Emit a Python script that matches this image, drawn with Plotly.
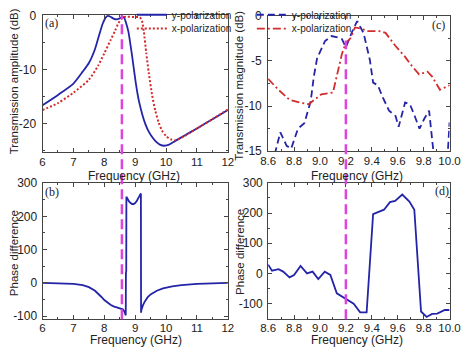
import plotly.graph_objects as go

# ---------------- data ----------------
# (a) transmission amplitude (dB), simulation
freq_a_y = [6.0, 6.5, 7.0, 7.3, 7.5, 7.7, 7.85, 7.95, 8.05, 8.12, 8.2, 8.3, 8.4, 8.5, 8.58,
            8.64, 8.7, 8.78, 8.9, 9.02, 9.12, 9.23, 9.33, 9.44, 9.55, 9.65, 9.8, 9.95,
            10.1, 10.3, 10.6, 11.0, 11.5, 12.0]
amp_y = [-16.6, -14.7, -12.6, -10.4, -8.8, -6.2, -3.3, -1.5, -0.35, -0.1, -0.25, -0.6, -0.75,
         -0.55, -0.3, -0.4, -1.3, -3.0, -7.5, -12.5, -15.8, -18.3, -20.1, -21.5, -22.5, -23.2,
         -23.9, -24.1, -23.9, -23.2, -22.2, -20.9, -19.2, -17.5]
freq_a_x = [6.0, 6.5, 7.0, 7.5, 7.8, 8.0, 8.2, 8.35, 8.46, 8.56, 8.65, 8.75, 9.0, 9.15, 9.22,
            9.28, 9.36, 9.44, 9.55, 9.65, 9.76, 9.86, 10.0, 10.15, 10.3, 10.6, 11.0, 11.5, 12.0]
amp_x = [-17.5, -16.2, -14.3, -11.9, -9.3, -7.0, -4.6, -2.8, -1.4, -0.6, -0.3, -0.25, -0.3,
         -0.35, -1.0, -3.0, -7.0, -10.6, -14.8, -17.6, -19.8, -21.2, -22.3, -22.9, -23.1,
         -22.3, -20.9, -19.2, -17.4]

# (b) phase difference, simulation
freq_b = [6.0, 6.5, 7.0, 7.3, 7.5, 7.7, 7.8, 7.9, 8.0, 8.1, 8.2, 8.3, 8.4, 8.5, 8.6, 8.65,
          8.695, 8.70, 8.71, 8.715, 8.75, 8.8, 8.85, 8.9, 8.95, 9.0, 9.05, 9.1, 9.15, 9.185,
          9.19, 9.2, 9.25, 9.3, 9.4, 9.5, 9.7, 9.9, 10.2, 10.5, 11.0, 11.5, 12.0]
phase_b = [0, -1, -3, -7, -13, -24, -32, -42, -52, -60, -66, -71, -74, -76, -80, -86,
           -98, 30, 35, 259, 252, 245, 240, 237, 237, 240, 246, 254, 262, 269,
           -90, -82, -68, -58, -44, -35, -24, -17, -11, -7, -3, -1.5, -0.5]

# (c) transmission magnitude (dB), measurement
freq_c_y = [8.63, 8.664, 8.694, 8.743, 8.778, 8.83, 8.879, 8.928, 8.953, 8.978, 9.039, 9.089,
            9.139, 9.17, 9.2, 9.25, 9.287, 9.336, 9.385, 9.41, 9.447, 9.48, 9.533, 9.583,
            9.607, 9.657, 9.694, 9.731, 9.768, 9.805, 9.842, 9.879, 9.95, 9.985, 10.0]
mag_y = [-16.5, -14.5, -12.9, -14.4, -14.7, -12.5, -11.9, -9.5, -6.7, -4.7, -2.8, -2.25,
         -2.4, -2.6, -3.5, -1.7, -0.6, -1.9, -4.9, -7.4, -7.7, -8.9, -10.5, -11.1,
         -12.3, -9.6, -9.8, -11.1, -12.5, -11.4, -10.5, -15.5, -16.5, -15.5, -11.8]
freq_c_x = [8.6, 8.68, 8.765, 8.84, 8.913, 8.94, 9.01, 9.1, 9.17, 9.2, 9.235, 9.27, 9.31,
            9.37, 9.457, 9.506, 9.58, 9.654, 9.7, 9.765, 9.83, 9.864, 9.926, 10.0]
mag_x = [-7.0, -8.2, -9.3, -9.6, -9.8, -9.5, -8.7, -8.5, -4.2, -3.0, -2.5, -1.3, -1.4,
         -1.7, -1.7, -1.9, -3.3, -4.5, -5.4, -6.5, -6.2, -6.7, -8.2, -7.7]

# (d) phase difference, measurement
freq_d = [8.6, 8.63, 8.68, 8.716, 8.765, 8.80, 8.85, 8.90, 8.943, 8.987, 9.037, 9.08, 9.13,
          9.20, 9.26, 9.31, 9.36, 9.41, 9.457, 9.494, 9.54, 9.58, 9.635, 9.69, 9.728, 9.78,
          9.823, 9.865, 9.905, 9.963, 10.0]
phase_d = [29, 9, 14, 6, -13, -5, 25, 0, 6, -19, 6, -5, -66, -84, -100, -129, -129, 196,
           204, 211, 236, 240, 261, 238, 211, -126, -144, -134, -133, -121, -121]

marker_a = 8.57
marker_c = 9.2

xticks_a = [6, 7, 8, 9, 10, 11, 12]
xtext_a = ["6", "7", "8", "9", "10", "11", "12"]
yticks_a = [0, -10, -20]
ytext_a = ["0", "-10", "-20"]
xticks_c = [8.6, 8.8, 9.0, 9.2, 9.4, 9.6, 9.8, 10.0]
xtext_c = ["8.6", "8.8", "9.0", "9.2", "9.4", "9.6", "9.8", "10.0"]
yticks_c = [0, -5, -10, -15]
ytext_c = ["0", "-5", "-10", "-15"]
yticks_bd = [300, 200, 100, 0, -100]
ytext_bd = ["300", "200", "100", "0", "-100"]

# ---------------- style ----------------
W, H = 474, 355
BLUE = "#2424a8"
RED = "#d22c2c"
MAG = "#dd44dd"
AX = "#444444"
TXT = "#222222"
SANS = "Liberation Sans, Arial, sans-serif"
TICKFONT = dict(family=SANS, size=12, color=TXT)
XTICKFONT = dict(family=SANS, size=11.5, color=TXT)
TITLEFONT = dict(family=SANS, size=12, color=TXT)
YTITLEFONT = dict(family=SANS, size=11.5, color=TXT)
LEGFONT = dict(family=SANS, size=10, color=TXT)
PANELFONT = dict(family="Liberation Serif, Times New Roman, serif", size=12, color=TXT)


def px_x(p):
    return p / W


def px_y(p):
    return 1 - p / H


LX = [px_x(36), px_x(229)]
RX = [px_x(271), px_x(460)]
A_Y = [px_y(150), px_y(6.2)]
C_Y = [px_y(149), px_y(7)]
B_Y = [px_y(325), px_y(182.3)]
D_Y = [px_y(325), px_y(182)]

fig = go.Figure()

fig.add_trace(go.Scatter(x=freq_a_y, y=amp_y, mode="lines", name="y-polarization",
                         line=dict(color=BLUE, width=1.8, shape="spline", smoothing=0.6),
                         xaxis="x", yaxis="y", legend="legend"))
fig.add_trace(go.Scatter(x=freq_a_x, y=amp_x, mode="lines", name="x-polarization",
                         line=dict(color=RED, width=2, dash="2px,2px", shape="spline", smoothing=0.6),
                         xaxis="x", yaxis="y", legend="legend2"))
fig.add_trace(go.Scatter(x=freq_c_y, y=mag_y, mode="lines", name="y-polarization",
                         line=dict(color=BLUE, width=1.8, dash="7px,4px"),
                         xaxis="x2", yaxis="y2", legend="legend3"))
fig.add_trace(go.Scatter(x=freq_c_x, y=mag_x, mode="lines", name="x-polarization",
                         line=dict(color=RED, width=1.8, dash="8px,3px,2px,3px"),
                         xaxis="x2", yaxis="y2", legend="legend4"))
fig.add_trace(go.Scatter(x=freq_b, y=phase_b, mode="lines", showlegend=False,
                         line=dict(color=BLUE, width=1.8), xaxis="x3", yaxis="y3"))
fig.add_trace(go.Scatter(x=freq_d, y=phase_d, mode="lines", showlegend=False,
                         line=dict(color=BLUE, width=1.8), xaxis="x4", yaxis="y4"))


def axis(domain, rng, tickvals, ticktext, anchor, minor_dtick, standoff, font=TICKFONT):
    return dict(domain=domain, range=rng, anchor=anchor, tickmode="array",
                tickvals=tickvals, ticktext=ticktext, ticks="inside", ticklen=4,
                tickwidth=1, tickcolor=AX, showline=True, linecolor=AX, linewidth=1,
                mirror="ticks", showgrid=False, zeroline=False, tickfont=font,
                minor=dict(ticks="inside", ticklen=2, tickcolor=AX, dtick=minor_dtick,
                           showgrid=False),
                ticklabelstandoff=standoff)


fig.update_layout(
    width=W, height=H, autosize=False,
    margin=dict(l=0, r=0, t=0, b=0),
    paper_bgcolor="white", plot_bgcolor="white",
    xaxis=axis(LX, [6, 12], xticks_a, xtext_a, "y", 0.5, -1, XTICKFONT),
    yaxis=axis(A_Y, [-25.3, 0.09], yticks_a, ytext_a, "x", 5, 3),
    xaxis2=axis(RX, [8.6, 10.0], xticks_c, xtext_c, "y2", 0.1, -1, XTICKFONT),
    yaxis2=axis(C_Y, [-15, 0], yticks_c, ytext_c, "x2", 2.5, 3),
    xaxis3=axis(LX, [6, 12], xticks_a, xtext_a, "y3", 0.5, -2, XTICKFONT),
    yaxis3=axis(B_Y, [-110, 300], yticks_bd, ytext_bd, "x3", 50, 2),
    xaxis4=axis(RX, [8.6, 10.0], xticks_c, xtext_c, "y4", 0.1, -2, XTICKFONT),
    yaxis4=axis(D_Y, [-152, 300], yticks_bd, ytext_bd, "x4", 50, 2),
)

legend_common = dict(bgcolor="rgba(0,0,0,0)", borderwidth=0, font=LEGFONT,
                     xanchor="left", yanchor="middle", itemwidth=30)
fig.update_layout(
    legend=dict(x=px_x(129), y=px_y(6), **legend_common),
    legend2=dict(x=px_x(129), y=px_y(20.5), **legend_common),
    legend3=dict(x=px_x(254), y=px_y(6), **legend_common),
    legend4=dict(x=px_x(254), y=px_y(20.5), **legend_common),
)

# magenta marker lines spanning top and bottom panels
fig.add_shape(type="line", xref="x", yref="paper", x0=marker_a, x1=marker_a,
              y0=B_Y[0], y1=A_Y[1], line=dict(color=MAG, width=2.5, dash="10px,5px"))
fig.add_shape(type="line", xref="x2", yref="paper", x0=marker_c, x1=marker_c,
              y0=D_Y[0], y1=px_y(33), line=dict(color=MAG, width=2.5, dash="10px,5px"))

annots = [
    dict(text="Frequency (GHz)", x=px_x(131), y=px_y(175), font=TITLEFONT),
    dict(text="Frequency (GHz)", x=px_x(364), y=px_y(175), font=TITLEFONT),
    dict(text="Frequency (GHz)", x=px_x(133), y=px_y(347), font=TITLEFONT),
    dict(text="Frequency (GHz)", x=px_x(364), y=px_y(347), font=TITLEFONT),
    dict(text="Transmission amplitude (dB)", x=px_x(6), y=px_y(76), textangle=-90, font=YTITLEFONT),
    dict(text="Transmission magnitude (dB)", x=px_x(241), y=px_y(80), textangle=-90, font=YTITLEFONT),
    dict(text="Phase difference", x=px_x(7), y=px_y(256), textangle=-90, font=YTITLEFONT),
    dict(text="Phase difference", x=px_x(241), y=px_y(254), textangle=-90, font=YTITLEFONT),
    dict(text="(a)", x=px_x(45.5), y=px_y(15), font=PANELFONT),
    dict(text="(b)", x=px_x(45.5), y=px_y(192), font=PANELFONT),
    dict(text="(c)", x=px_x(448), y=px_y(16.5), font=PANELFONT),
    dict(text="(d)", x=px_x(452), y=px_y(191), font=PANELFONT),
]
for a in annots:
    fig.add_annotation(xref="paper", yref="paper", showarrow=False,
                       xanchor="center", yanchor="middle", **a)

fig.write_html("out.html",
               config={"displayModeBar": False},
               post_script="document.body.style.margin='0';"
                           "document.body.style.overflow='hidden';")
